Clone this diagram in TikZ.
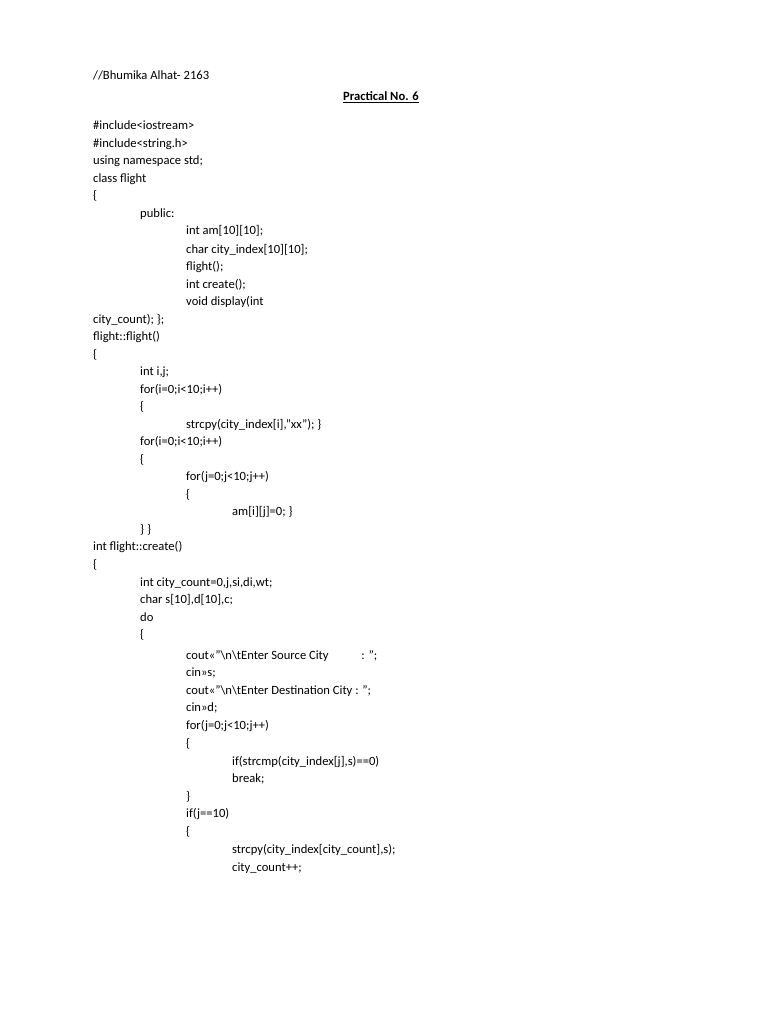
\documentclass[tikz,border=0pt]{standalone}
\usepackage{fontspec}
\setmainfont{Carlito}
\tikzset{codeline/.style={anchor=base west,inner sep=0pt,font=\fontsize{12.6pt}{15pt}\selectfont}}
\newcommand\CL[3]{\node[codeline] at (#1pt,-#2pt) {#3};}
\begin{document}
\begin{tikzpicture}[x=1pt,y=1pt]
\useasboundingbox[fill=white] (0,0) rectangle (768,-1024);
\CL{93}{80}{//Bhumika Alhat- 2163}
\node[anchor=base,inner sep=0pt,font=\fontsize{12.6pt}{15pt}\selectfont\bfseries] (title) at (381,-101) {\underline{Practical No. 6}};
\CL{93}{130}{\#include<iostream>}
\CL{93}{148}{\#include<string.h>}
\CL{93}{165}{using namespace std;}
\CL{93}{183}{class flight}
\CL{93}{200}{\{}
\CL{140}{218}{public:}
\CL{186}{235}{int am[10][10];}
\CL{186}{253}{char city\_index[10][10];}
\CL{186}{270}{flight();}
\CL{186}{288}{int create();}
\CL{186}{305}{void display(int}
\CL{93}{323}{city\_count); \};}
\CL{93}{340}{flight::flight()}
\CL{93}{358}{\{}
\CL{140}{375}{int i,j;}
\CL{140}{393}{for(i=0;i<10;i++)}
\CL{140}{410}{\{}
\CL{186}{428}{strcpy(city\_index[i],"xx"); \}}
\CL{140}{445}{for(i=0;i<10;i++)}
\CL{140}{463}{\{}
\CL{186}{480}{for(j=0;j<10;j++)}
\CL{186}{498}{\{}
\CL{232}{515}{am[i][j]=0; \}}
\CL{140}{533}{\} \}}
\CL{93}{550}{int flight::create()}
\CL{93}{568}{\{}
\CL{140}{586}{int city\_count=0,j,si,di,wt;}
\CL{140}{603}{char s[10],d[10],c;}
\CL{140}{621}{do}
\CL{140}{638}{\{}
\CL{186}{659}{cout<<"\textbackslash n\textbackslash tEnter Source City\hspace{2.6em}: ";}
\CL{186}{676}{cin>>s;}
\CL{186}{694}{cout<<"\textbackslash n\textbackslash tEnter Destination City : ";}
\CL{186}{711}{cin>>d;}
\CL{186}{729}{for(j=0;j<10;j++)}
\CL{186}{747}{\{}
\CL{232}{765}{if(strcmp(city\_index[j],s)==0)}
\CL{232}{782}{break;}
\CL{186}{800}{\}}
\CL{186}{817}{if(j==10)}
\CL{186}{835}{\{}
\CL{232}{853}{strcpy(city\_index[city\_count],s);}
\CL{232}{871}{city\_count++;}
\end{tikzpicture}
\end{document}
